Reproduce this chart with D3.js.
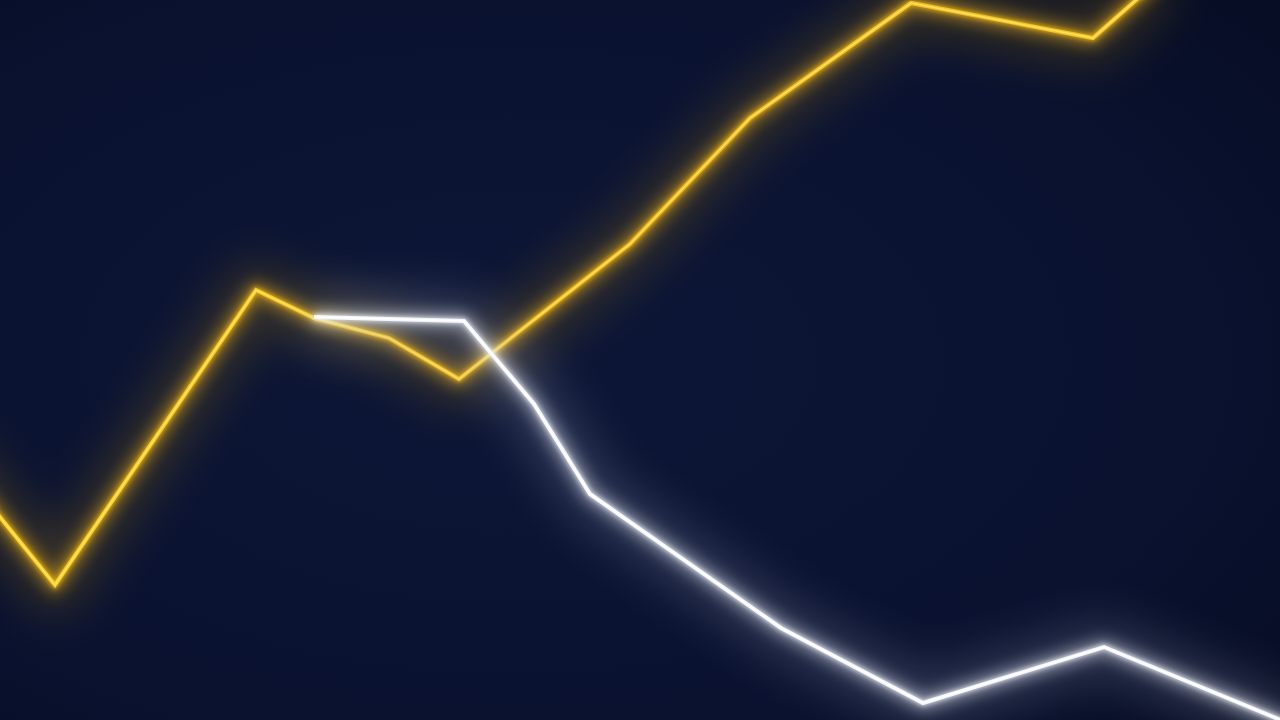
<!DOCTYPE html>
<html>
<head>
<meta charset="utf-8">
<script src="https://cdn.jsdelivr.net/npm/d3@7/dist/d3.min.js"></script>
<style>
  html, body { margin: 0; padding: 0; background: #0b1331; overflow: hidden; }
  svg { display: block; }
</style>
</head>
<body>
<svg id="chart" width="1280" height="720"></svg>
<script>
// ---- data (arbitrary units) ----
const goldX  = [-6, 5.5, 25.6, 31.4, 38.9, 45.9, 63.0, 75.0, 91.1, 109.3, 116];
const goldY  = [27.7, 13.5, 43.0, 40.2, 38.2, 34.1, 47.6, 60.2, 71.7, 68.2, 74.1];
const whiteX = [31.4, 46.4, 53.4, 59.0, 78.1, 92.3, 110.4, 130];
const whiteY = [40.3, 39.9, 31.6, 22.6, 9.2, 1.7, 7.3, -0.8];

const W = 1280, H = 720;
const svg = d3.select("#chart");

const x = d3.scaleLinear().domain([0, 128]).range([0, W]);
const y = d3.scaleLinear().domain([0, 72]).range([H, 0]);

const defs = svg.append("defs");

// background gradient
const bg = defs.append("radialGradient").attr("id", "bg")
  .attr("cx", "40%").attr("cy", "50%").attr("r", "75%");
bg.append("stop").attr("offset", "0%").attr("stop-color", "#0d1637");
bg.append("stop").attr("offset", "70%").attr("stop-color", "#0a1230");
bg.append("stop").attr("offset", "100%").attr("stop-color", "#070d25");
svg.append("rect").attr("width", W).attr("height", H).attr("fill", "url(#bg)");

function blurFilter(id, sd) {
  defs.append("filter").attr("id", id)
    .attr("x", -200).attr("y", -200).attr("width", W + 400).attr("height", H + 400)
    .attr("filterUnits", "userSpaceOnUse")
    .append("feGaussianBlur").attr("stdDeviation", sd);
}
blurFilter("blurWide", 26);
blurFilter("blurMid", 8);
blurFilter("blurSmall", 2.5);

// gold gradient along x
const gg = defs.append("linearGradient").attr("id", "goldGrad")
  .attr("gradientUnits", "userSpaceOnUse")
  .attr("x1", 0).attr("y1", 0).attr("x2", W).attr("y2", 0);
gg.append("stop").attr("offset", "0%").attr("stop-color", "#f7d327");
gg.append("stop").attr("offset", "50%").attr("stop-color", "#f1bb1e");
gg.append("stop").attr("offset", "100%").attr("stop-color", "#f5cf2c");

const line = d3.line().x(d => x(d[0])).y(d => y(d[1])).curve(d3.curveLinear);

const gold = goldX.map((v, i) => [v, goldY[i]]);
const white = whiteX.map((v, i) => [v, whiteY[i]]);

function glowLine(data, cfg) {
  const g = svg.append("g");
  const d = line(data);
  g.append("path").attr("d", d).attr("fill", "none")
    .attr("stroke", cfg.wide).attr("stroke-width", 40).attr("opacity", cfg.wideOp)
    .attr("filter", "url(#blurWide)");
  g.append("path").attr("d", d).attr("fill", "none")
    .attr("stroke", cfg.mid).attr("stroke-width", 12).attr("opacity", cfg.midOp)
    .attr("filter", "url(#blurMid)");
  g.append("path").attr("d", d).attr("fill", "none")
    .attr("stroke", cfg.mid).attr("stroke-width", 6).attr("opacity", 0.85)
    .attr("filter", "url(#blurSmall)");
  g.append("path").attr("d", d).attr("fill", "none")
    .attr("stroke", cfg.core).attr("stroke-width", 4)
    .attr("stroke-linejoin", "miter").attr("stroke-miterlimit", 10);
  g.append("path").attr("d", d).attr("fill", "none")
    .attr("stroke", cfg.inner).attr("stroke-width", 1.6).attr("opacity", 0.85)
    .attr("stroke-linejoin", "miter");
}

glowLine(gold, { wide: "#b88a10", wideOp: 0.33, mid: "#f0b418", midOp: 0.65,
                 core: "url(#goldGrad)", inner: "#ffe36a" });
glowLine(white, { wide: "#a7afc4", wideOp: 0.32, mid: "#e8ecf5", midOp: 0.65,
                  core: "#f4f6fb", inner: "#ffffff" });
</script>
</body>
</html>
